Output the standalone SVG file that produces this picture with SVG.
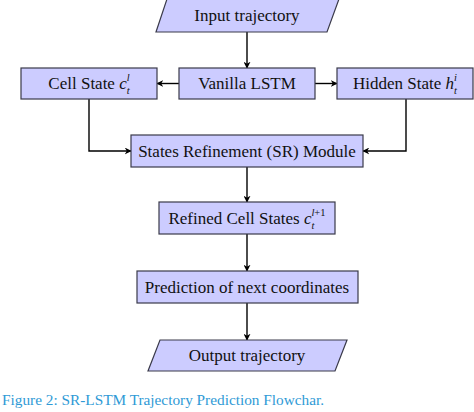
<svg xmlns="http://www.w3.org/2000/svg" width="474" height="412" viewBox="0 0 474 412">
<defs>
<style>
.box{fill:#ccccff;stroke:#3a3a4a;stroke-width:1.2}
.lbl{font-family:"Liberation Serif","Times New Roman",serif;font-size:17px;fill:#111;text-anchor:middle}
.it{font-style:italic}
.sm{font-size:10.5px}
.edge{fill:none;stroke:#000;stroke-width:1.4}
.cap{font-family:"Liberation Serif","Times New Roman",serif;font-size:15.3px;fill:#2f9ad6}
</style>
<marker id="ah" viewBox="0 0 10 10" refX="9" refY="5" markerWidth="7" markerHeight="7" markerUnits="userSpaceOnUse" orient="auto">
<path d="M0,0 L10,5 L0,10 L3,5 Z" fill="#000"/>
</marker>
</defs>
<rect width="474" height="412" fill="#fff"/>
<g id="connectors">
<path class="edge" d="M247,32 V68" marker-end="url(#ah)"/>
<path class="edge" d="M179,83.5 H157" marker-end="url(#ah)"/>
<path class="edge" d="M315,83.5 H337" marker-end="url(#ah)"/>
<path class="edge" d="M89,99 V151 H131" marker-end="url(#ah)"/>
<path class="edge" d="M406,99 V151 H363" marker-end="url(#ah)"/>
<path class="edge" d="M247,167 V202" marker-end="url(#ah)"/>
<path class="edge" d="M247,234 V271" marker-end="url(#ah)"/>
<path class="edge" d="M247,303 V340" marker-end="url(#ah)"/>
</g>
<g id="input">
<polygon class="box" points="167,-1 339,-1 327,32 156,32"/>
<text class="lbl" x="247" y="21">Input trajectory</text>
</g>
<g id="cell">
<rect class="box" x="21" y="68" width="136" height="31"/>
<text class="lbl" x="89" y="89">Cell State <tspan class="it">c</tspan><tspan class="it sm" dy="4.5">t</tspan><tspan class="it sm" dx="-3" dy="-12.5">l</tspan></text>
</g>
<g id="vanilla">
<rect class="box" x="179" y="68" width="136" height="31"/>
<text class="lbl" x="247" y="89">Vanilla LSTM</text>
</g>
<g id="hidden">
<rect class="box" x="337" y="68" width="136" height="31"/>
<text class="lbl" x="405" y="89">Hidden State <tspan class="it">h</tspan><tspan class="it sm" dy="4.5">t</tspan><tspan class="it sm" dx="-3" dy="-12.5">i</tspan></text>
</g>
<g id="sr">
<rect class="box" x="131" y="135" width="232" height="32"/>
<text class="lbl" x="247" y="157">States Refinement (SR) Module</text>
</g>
<g id="refined">
<rect class="box" x="159" y="202" width="176" height="32"/>
<text class="lbl" x="247" y="224">Refined Cell States <tspan class="it">c</tspan><tspan class="it sm" dy="4.5">t</tspan><tspan class="it sm" dx="-3" dy="-12.5">l</tspan><tspan class="sm">+1</tspan></text>
</g>
<g id="prediction">
<rect class="box" x="137" y="271" width="221" height="32"/>
<text class="lbl" x="247" y="293">Prediction of next coordinates</text>
</g>
<g id="output">
<polygon class="box" points="160,340 347,340 335,371 148,371"/>
<text class="lbl" x="247" y="361">Output trajectory</text>
</g>
<text class="cap" x="2" y="405">Figure 2: SR-LSTM Trajectory Prediction Flowchar.</text>
</svg>
